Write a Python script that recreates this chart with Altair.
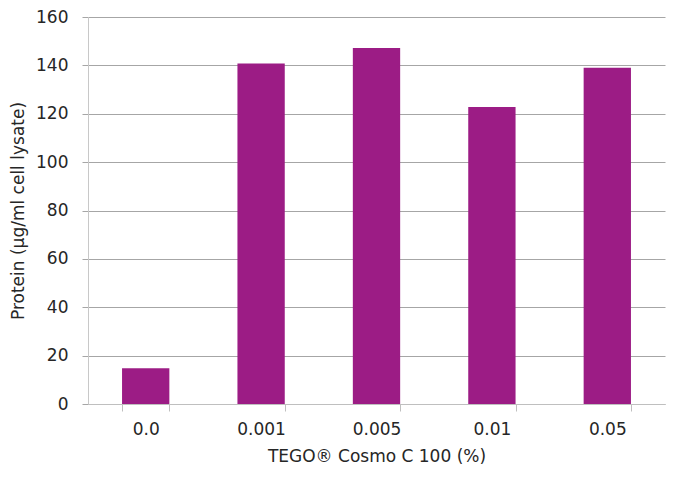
import altair as alt
import pandas as pd

categories = ["0.0", "0.001", "0.005", "0.01", "0.05"]
protein = [14.8, 140.8, 147.2, 122.8, 139.0]

df = pd.DataFrame({"conc": categories, "protein": protein})

FONT = "DejaVu Sans"
TXT = "#262626"

chart = (
    alt.Chart(df)
    .mark_bar(color="#9C1C85")
    .encode(
        x=alt.X(
            "conc:N",
            sort=categories,
            scale=alt.Scale(paddingInner=0.59, paddingOuter=0.295),
            axis=alt.Axis(
                title="TEGO® Cosmo C 100 (%)",
                labelAngle=0,
                tickBand="extent",
                tickSize=7,
                tickColor="#bfbfbf",
                domainColor="#bfbfbf",
                labelPadding=10,
                titlePadding=11,
                grid=False,
            ),
        ),
        y=alt.Y(
            "protein:Q",
            scale=alt.Scale(domain=[0, 160]),
            axis=alt.Axis(
                title="Protein (µg/ml cell lysate)",
                values=[0, 20, 40, 60, 80, 100, 120, 140, 160],
                tickSize=6,
                tickColor="#a6a6a6",
                domainColor="#c8c8c8",
                labelPadding=14,
                titlePadding=8,
                gridColor="#a6a6a6",
                gridWidth=1,
            ),
        ),
    )
    .properties(
        width=577,
        height=387,
        autosize=alt.AutoSizeParams(type="none"),
        padding={"left": 80, "top": 9, "right": 5, "bottom": 70},
    )
    .configure_view(stroke=None)
    .configure_axis(
        labelFont=FONT,
        titleFont=FONT,
        labelFontSize=17,
        titleFontSize=17,
        titleFontWeight="normal",
        labelColor=TXT,
        titleColor=TXT,
    )
)

chart.save("out.html", embed_options={"renderer": "svg", "actions": False})
